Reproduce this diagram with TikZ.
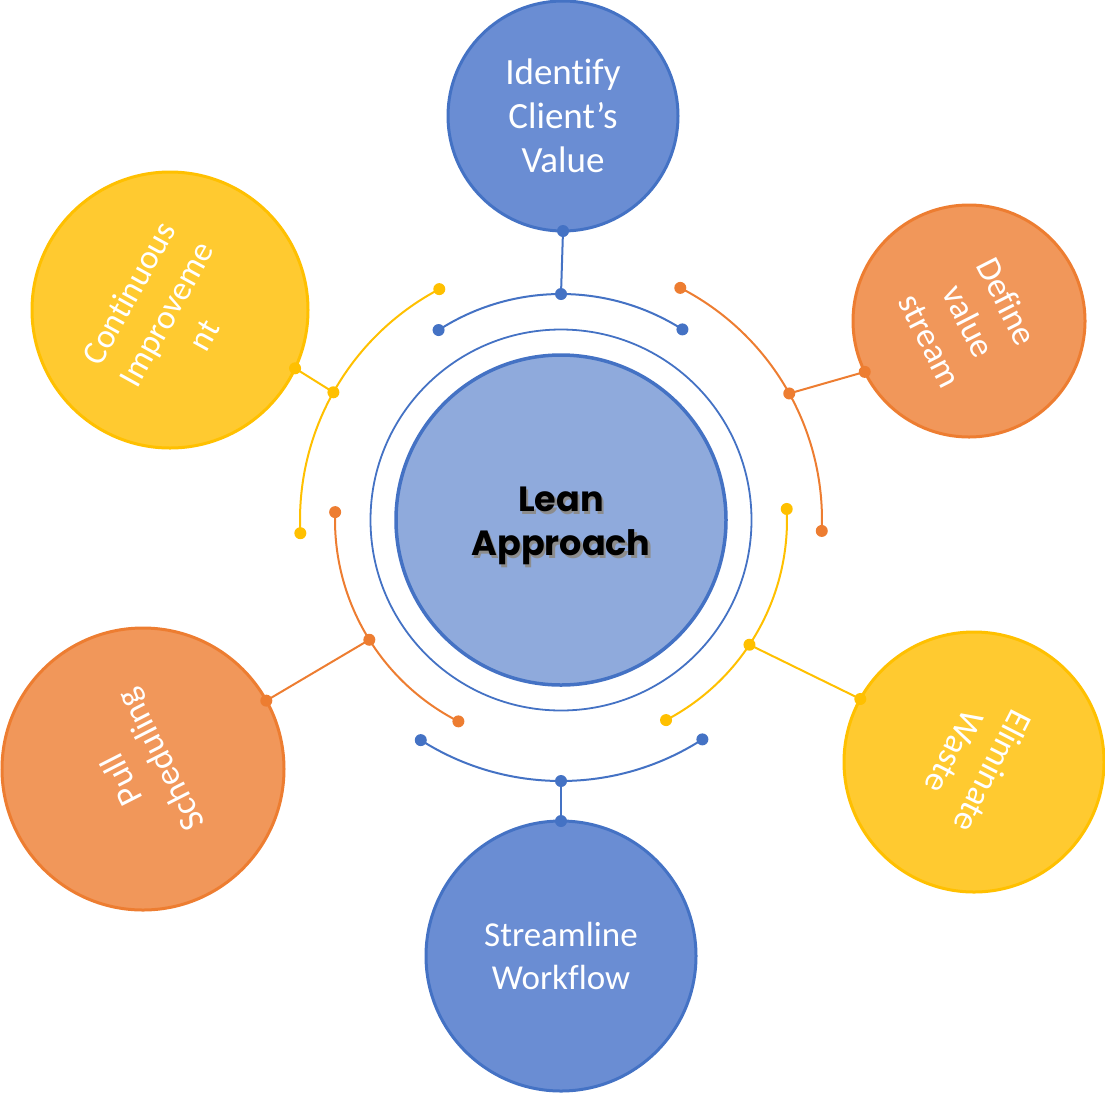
\documentclass[tikz,border=0pt]{standalone}
\usepackage{fontspec}
\setmainfont{Carlito}[Ligatures=NoCommon]
\newfontfamily\leanfont{Poppins}
\definecolor{bline}{HTML}{4472C4}
\definecolor{bfill}{HTML}{6A8DD3}
\definecolor{cfill}{HTML}{8FAADC}
\definecolor{oline}{HTML}{ED7D31}
\definecolor{ofill}{HTML}{F1975A}
\definecolor{yline}{HTML}{FFC000}
\definecolor{yfill}{HTML}{FFCA30}
\begin{document}
\begin{tikzpicture}[x=1pt,y=1pt,
  bubble/.style={circle, draw, line width=3, inner sep=0, outer sep=0},
  lbl/.style={text=white, align=center, font=\fontsize{35}{43}\selectfont},
  dotnode/.style={circle, fill, inner sep=0, outer sep=0, minimum size=12},
  arcline/.style={line width=2},
  conn/.style={line width=2}]
\useasboundingbox (0,0) rectangle (1105,-1093);

% centre
\node[circle, draw=bline, line width=1.8, inner sep=0, outer sep=0, minimum size=381] (ring) at (561,-520) {};
\node[bubble, draw=bline, fill=cfill, line width=3.5, minimum size=330] (lean) at (561,-520) {};
\node[font=\leanfont\bfseries\fontsize{35}{44}\selectfont, align=center, text=black!45] (leanshadow) at ([shift={(2.5,-8.5)}]lean.center) {Lean\\Approach};
\node[font=\leanfont\bfseries\fontsize{35}{44}\selectfont, align=center, text=black] (leantxt) at ([shift={(0,-6)}]lean.center) {Lean\\Approach};

% outer bubbles
\node[bubble, draw=bline, fill=bfill, minimum size=230] (top) at (563,-116) {};
\node[bubble, draw=oline, fill=ofill, minimum size=232] (ur) at (969,-321) {};
\node[bubble, draw=yline, fill=yfill, minimum size=260] (lr) at (974,-762) {};
\node[bubble, draw=bline, fill=bfill, minimum size=270] (bot) at (561,-956) {};
\node[bubble, draw=oline, fill=ofill, minimum size=282] (ll) at (143,-769) {};
\node[bubble, draw=yline, fill=yfill, minimum size=276] (ul) at (170,-310) {};

\node[lbl, font=\fontsize{37}{44}\selectfont] (toptxt) at (top.center) {Identify\\Client’s\\Value};
\node[lbl, rotate=-63] (urtxt) at (ur.center) {Define\\value\\stream};
\node[lbl, rotate=-117] (lrtxt) at (lr.center) {Eliminate\\Waste};
\node[lbl] (bottxt) at (bot.center) {Streamline\\Workflow};
\node[lbl, rotate=117] (lltxt) at (ll.center) {Pull\\Scheduling};
\node[lbl, rotate=61, font=\fontsize{34}{43}\selectfont] (ultxt) at ([shift={(-4,-4)}]ul.center) {Continuous\\Improveme\\nt};

% arcs
\begin{scope}[shift={(561,-520)}]
  % top (blue)
  \coordinate (a1s) at (57.5:226); \coordinate (a1e) at (122.8:226); \coordinate (j1) at (90:226);
  \draw[bline, arcline] (a1s) arc[start angle=57.5, end angle=122.8, radius=226];
  % upper right (orange)
  \coordinate (a2s) at (-2.4:261); \coordinate (a2e) at (62.8:261); \coordinate (j2) at (29:261);
  \draw[oline, arcline] (a2s) arc[start angle=-2.4, end angle=62.8, radius=261];
  % lower right (yellow)
  \coordinate (a3s) at (-62.3:226); \coordinate (a3e) at (2.8:226); \coordinate (j3) at (-33.5:226);
  \draw[yline, arcline] (a3s) arc[start angle=-62.3, end angle=2.8, radius=226];
  % bottom (blue)
  \coordinate (a4s) at (237.5:261); \coordinate (a4e) at (302.8:261); \coordinate (j4) at (270:261);
  \draw[bline, arcline] (a4s) arc[start angle=237.5, end angle=302.8, radius=261];
  % lower left (orange)
  \coordinate (a5s) at (178:226); \coordinate (a5e) at (243:226); \coordinate (j5) at (212:226);
  \draw[oline, arcline] (a5s) arc[start angle=178, end angle=243, radius=226];
  % upper left (yellow)
  \coordinate (a6s) at (117.8:261); \coordinate (a6e) at (182.9:261); \coordinate (j6) at (150.7:261);
  \draw[yline, arcline] (a6s) arc[start angle=117.8, end angle=182.9, radius=261];
\end{scope}

% connectors
\draw[bline, conn] (j1) -- (top.south);
\draw[oline, conn] (j2) -- (ur.206);
\draw[yline, conn] (j3) -- (lr.151);
\draw[bline, conn] (j4) -- (bot.north);
\draw[oline, conn] (j5) -- (ll.29);
\draw[yline, conn] (j6) -- (ul.-25);

% dots
\foreach \p in {a1s,a1e,j1} \node[dotnode, bline] (d\p) at (\p) {};
\node[dotnode, bline] (dtop) at (top.south) {};
\foreach \p in {a2s,a2e,j2} \node[dotnode, oline] (d\p) at (\p) {};
\node[dotnode, oline] (dur) at (ur.206) {};
\foreach \p in {a3s,a3e,j3} \node[dotnode, yline] (d\p) at (\p) {};
\node[dotnode, yline] (dlr) at (lr.151) {};
\foreach \p in {a4s,a4e,j4} \node[dotnode, bline] (d\p) at (\p) {};
\node[dotnode, bline] (dbot) at (bot.north) {};
\foreach \p in {a5s,a5e,j5} \node[dotnode, oline] (d\p) at (\p) {};
\node[dotnode, oline] (dll) at (ll.29) {};
\foreach \p in {a6s,a6e,j6} \node[dotnode, yline] (d\p) at (\p) {};
\node[dotnode, yline] (dul) at (ul.-25) {};
\end{tikzpicture}
\end{document}
